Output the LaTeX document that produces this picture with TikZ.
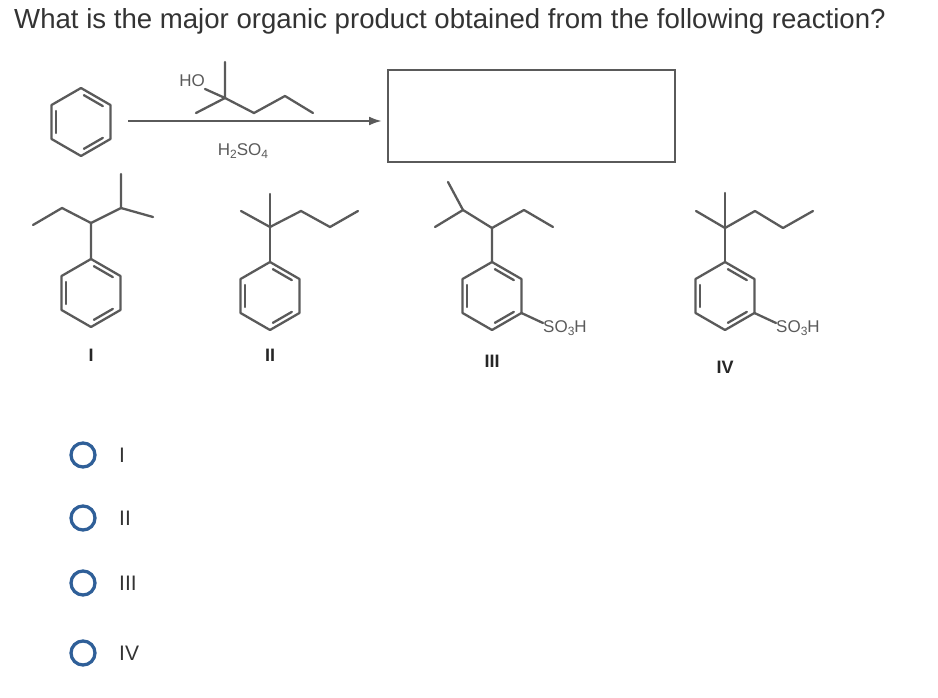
\documentclass[tikz,border=0pt]{standalone}
\usepackage{fontspec}
\setmainfont{Liberation Sans}
\usetikzlibrary{arrows.meta,calc}
\definecolor{bond}{HTML}{5A5A5A}
\definecolor{radio}{HTML}{2F5F98}
\definecolor{txt}{HTML}{333333}
\tikzset{
  bd/.style={draw=bond,line width=2.3pt,line cap=round,line join=round},
  chem/.style={font=\fontsize{17}{17}\selectfont,text=bond,inner sep=0pt},
  lab/.style={font=\bfseries\fontsize{18}{18}\selectfont,text=black!85,inner sep=0pt},
  rb/.style={draw=radio,line width=3.3pt,circle,minimum size=24pt,inner sep=0pt},
  opt/.style={font=\fontsize{21}{21}\selectfont,text=txt,anchor=west,inner sep=0pt}
}
\newcommand\sbs[1]{\raisebox{-3pt}{\fontsize{12}{12}\selectfont #1}}
\newcommand\benz[3]{%
  \coordinate (#1) at (#2,#3);
  \draw[bd] ($(#1)+(-90:34)$) -- ($(#1)+(-30:34)$) -- ($(#1)+(30:34)$) -- ($(#1)+(90:34)$) -- ($(#1)+(150:34)$) -- ($(#1)+(210:34)$) -- cycle;
  \draw[bd] ($(#1)+(-84:27)$) -- ($(#1)+(-36:27)$);
  \draw[bd] ($(#1)+(156:27)$) -- ($(#1)+(204:27)$);
  \draw[bd] ($(#1)+(36:27)$) -- ($(#1)+(84:27)$);
}
\begin{document}
\begin{tikzpicture}[x=1pt,y=-1pt]
\useasboundingbox (0,0) rectangle (938,698);
\node[anchor=west,font=\fontsize{27.6}{27.6}\selectfont,text=txt,inner sep=0pt] (title) at (14,21) {What is the major organic product obtained from the following reaction?};
% reaction
\benz{r0}{81}{122}
\coordinate (a0) at (128,121); \coordinate (a1) at (382,121);
\draw[bond,line width=2.3pt,-{Latex[length=13pt,width=9pt]}] (a0) -- (a1);
\node[chem,anchor=east] (ho) at (205,81) {HO};
\coordinate (q) at (225,98);
\draw[bd] (205,89) -- (q) -- (225,62);
\draw[bd] (196,113) -- (q) -- (254,113) -- (285,96) -- (313,113);
\node[chem] (h2so4) at (243,151) {H\sbs{2}SO\sbs{4}};
\node[draw=bond,line width=2.3pt,minimum width=287pt,minimum height=92pt,inner sep=0pt] (box) at (531.5,116) {};
% I
\benz{r1}{91}{293}
\draw[bd] ($(r1)+(-90:34)$) -- (91,223) -- (62,208) -- (33,225);
\draw[bd] (91,223) -- (121,208) -- (121,174); \draw[bd] (121,208) -- (153,217);
\node[lab] (l1) at (91,355) {I};
% II
\benz{r2}{270}{296}
\draw[bd] ($(r2)+(-90:34)$) -- (270,227) -- (270,194);
\draw[bd] (241,211) -- (270,227) -- (301,211) -- (330,227) -- (358,211);
\node[lab] (l2) at (270,355) {II};
% III
\benz{r3}{492}{296}
\draw[bd] ($(r3)+(-90:34)$) -- (492,228) -- (463,210) -- (448,182);
\draw[bd] (463,210) -- (435,227);
\draw[bd] (492,228) -- (524,210) -- (553,227);
\draw[bd] ($(r3)+(30:34)$) -- (543,323);
\node[chem,anchor=west] (s3) at (543,328) {SO\sbs{3}H};
\node[lab] (l3) at (492,361) {III};
% IV
\benz{r4}{725}{296}
\draw[bd] ($(r4)+(-90:34)$) -- (725,228) -- (725,193);
\draw[bd] (696,211) -- (725,228) -- (755,211) -- (783,228) -- (813,211);
\draw[bd] ($(r4)+(30:34)$) -- (776,323);
\node[chem,anchor=west] (s4) at (776,328) {SO\sbs{3}H};
\node[lab] (l4) at (725,367) {IV};
% options
\node[rb] (c1) at (83,455) {}; \node[opt] (o1) at (119,455) {I};
\node[rb] (c2) at (83,518) {}; \node[opt] (o2) at (119,518) {II};
\node[rb] (c3) at (83,583) {}; \node[opt] (o3) at (119,583) {III};
\node[rb] (c4) at (83,653) {}; \node[opt] (o4) at (119,653) {IV};
\end{tikzpicture}
\end{document}
